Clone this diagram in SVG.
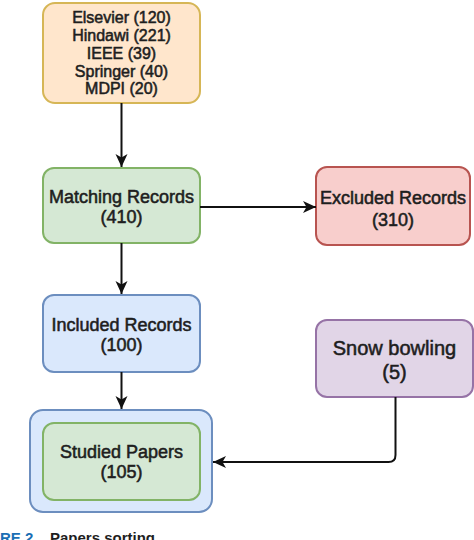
<svg xmlns="http://www.w3.org/2000/svg" width="474" height="540" viewBox="0 0 474 540">
<defs>
<marker id="arr" markerUnits="userSpaceOnUse" markerWidth="14" markerHeight="14" refX="13" refY="7" orient="auto">
<path d="M0,1 L13,7 L0,13 L3.5,7 z" fill="#111"/>
</marker>
</defs>
<style>
.t{font-family:"Liberation Sans",Arial,sans-serif;fill:#1e1e1e;stroke:#1e1e1e;stroke-width:0.55;text-anchor:middle}
.m{font-size:18px}
.s{font-size:16px}
.b{font-size:20px}
.e{fill:none;stroke:#111;stroke-width:2}
</style>
<rect width="474" height="540" fill="#fff"/>
<g id="sources">
<rect x="43" y="3" width="157" height="100" rx="12" fill="#ffe6cc" stroke="#d6b656" stroke-width="2"/>
<text class="t s" x="121.5" y="23">Elsevier (120)</text>
<text class="t s" x="121.5" y="41">Hindawi (221)</text>
<text class="t s" x="121.5" y="58.5">IEEE (39)</text>
<text class="t s" x="121.5" y="76.5">Springer (40)</text>
<text class="t s" x="121.5" y="94">MDPI (20)</text>
</g>
<g id="matching">
<rect x="43" y="168" width="157" height="75" rx="11" fill="#d5e8d4" stroke="#82b366" stroke-width="2"/>
<text class="t m" x="121.5" y="203">Matching Records</text>
<text class="t m" x="121.5" y="223">(410)</text>
</g>
<g id="excluded">
<rect x="316" y="167" width="154" height="78" rx="11" fill="#f8cecc" stroke="#b85450" stroke-width="2"/>
<text class="t m" x="393" y="204">Excluded Records</text>
<text class="t m" x="393" y="226">(310)</text>
</g>
<g id="included">
<rect x="43" y="295" width="157" height="77" rx="11" fill="#dae8fc" stroke="#6c8ebf" stroke-width="2"/>
<text class="t m" x="121.5" y="331">Included Records</text>
<text class="t m" x="121.5" y="351">(100)</text>
</g>
<g id="snow">
<rect x="316" y="320" width="157" height="77" rx="11" fill="#e1d5e7" stroke="#9673a6" stroke-width="2"/>
<text class="t b" x="394.5" y="355">Snow bowling</text>
<text class="t b" x="394.5" y="379">(5)</text>
</g>
<g id="studied">
<rect x="30" y="410" width="182" height="102" rx="13" fill="#dae8fc" stroke="#6c8ebf" stroke-width="2"/>
<rect x="43" y="423" width="157" height="77" rx="11" fill="#d5e8d4" stroke="#82b366" stroke-width="2"/>
<text class="t m" x="121.5" y="458">Studied Papers</text>
<text class="t m" x="121.5" y="478">(105)</text>
</g>
<g id="connectors">
<path class="e" d="M121.5,103 V167" marker-end="url(#arr)"/>
<path class="e" d="M200,207 H316" marker-end="url(#arr)"/>
<path class="e" d="M121.5,243 V294" marker-end="url(#arr)"/>
<path class="e" d="M121.5,372 V409" marker-end="url(#arr)"/>
<path class="e" d="M395.5,397 V455 Q395.5,462 388.5,462 H213" marker-end="url(#arr)"/>
</g>
<g id="caption">
<text x="0" y="543" font-family="Liberation Sans,Arial,sans-serif" font-size="15" font-weight="bold"><tspan fill="#1a6fb5">RE 2</tspan><tspan x="50" fill="#1e1e1e">Papers sorting</tspan></text>
</g>
</svg>
